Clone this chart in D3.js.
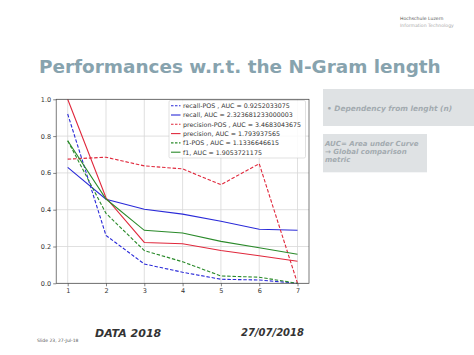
<!DOCTYPE html>
<html><head><meta charset="utf-8">
<script src="https://cdn.jsdelivr.net/npm/d3@7"></script>
<style>body{margin:0;background:#fff;}svg{display:block;}</style>
</head><body><svg id="c" width="474" height="355"></svg>
<script>
const ngrams = [1,2,3,4,5,6,7];
const recallPOS    = [0.92, 0.26, 0.105, 0.06, 0.022, 0.018, 0.0];
const recall       = [0.63, 0.457, 0.402, 0.376, 0.337, 0.294, 0.288];
const precisionPOS = [0.675, 0.685, 0.638, 0.622, 0.536, 0.65, 0.0];
const precision    = [1.0, 0.465, 0.222, 0.215, 0.178, 0.15, 0.12];
const f1POS        = [0.775, 0.38, 0.178, 0.117, 0.04, 0.033, 0.0];
const f1           = [0.775, 0.458, 0.288, 0.273, 0.228, 0.193, 0.158];
const seriesNames = ["recall-POS , AUC = 0.9252033075","recall, AUC = 2.323681233000003","precision-POS , AUC = 3.4683043675","precision, AUC = 1.793937565","f1-POS , AUC = 1.1336646615","f1, AUC = 1.9053721175"];
const xTicks = [1,2,3,4,5,6,7];
const yTicks = [0,0.2,0.4,0.6,0.8,1.0];

const series = [
  {name:seriesNames[0], v:recallPOS, c:"#2a2ad8", dash:true},
  {name:seriesNames[1], v:recall, c:"#2a2ad8", dash:false},
  {name:seriesNames[2], v:precisionPOS, c:"#e0283c", dash:true},
  {name:seriesNames[3], v:precision, c:"#e0283c", dash:false},
  {name:seriesNames[4], v:f1POS, c:"#2a8a2a", dash:true},
  {name:seriesNames[5], v:f1, c:"#2a8a2a", dash:false}
];

const svg = d3.select("#c");
const L=56.2, R=309, T=99.3, B=283.3;
const x = d3.scaleLinear().domain([0.7,7.3]).range([L,R]);
const y = d3.scaleLinear().domain([0,1]).range([B,T]);

// header
svg.append("text").attr("x",400).attr("y",20).attr("font-family","DejaVu Sans").attr("font-size",4.6).attr("fill","#555").text("Hochschule Luzern");
svg.append("text").attr("x",400).attr("y",26.5).attr("font-family","DejaVu Sans").attr("font-size",4.6).attr("fill","#aaa").text("Information Technology");

const title = svg.append("text").attr("x",39).attr("y",72.5).attr("font-family","DejaVu Sans").attr("font-weight","bold").attr("font-size",18).attr("fill","#87a3ae").text("Performances w.r.t. the N-Gram length");
const tw = title.node().getComputedTextLength();
title.attr("font-size", 18*402/tw);

// grid
const g = svg.append("g");
g.selectAll(".gx").data(xTicks).join("line").attr("x1",d=>x(d)).attr("x2",d=>x(d)).attr("y1",T).attr("y2",B).attr("stroke","#d8d8d8").attr("stroke-width",0.8);
g.selectAll(".gy").data(yTicks).join("line").attr("y1",d=>y(d)).attr("y2",d=>y(d)).attr("x1",L).attr("x2",R).attr("stroke","#d8d8d8").attr("stroke-width",0.8);

// axes
const xa = svg.append("g").attr("transform",`translate(0,${B})`).call(d3.axisBottom(x).tickValues(xTicks).tickSize(3).tickPadding(2).tickFormat(d3.format("d")));
const ya = svg.append("g").attr("transform",`translate(${L},0)`).call(d3.axisLeft(y).tickValues(yTicks).tickSize(3).tickPadding(2).tickFormat(d3.format(".1f")));
[xa,ya].forEach(a=>{a.select(".domain").remove();a.selectAll("text").attr("font-family","DejaVu Sans").attr("font-size",6.5).attr("fill","#333");a.selectAll("line").attr("stroke","#333").attr("stroke-width",0.6);});

// lines
const line = d3.line().x((d,i)=>x(ngrams[i])).y(d=>y(d));
const pl = svg.append("g");
series.forEach(s=>{
  pl.append("path").attr("d",line(s.v)).attr("fill","none").attr("stroke",s.c).attr("stroke-width",1.1).attr("stroke-dasharray",s.dash?"3.5,1.8":null);
});

// frame
svg.append("rect").attr("x",L).attr("y",T).attr("width",R-L).attr("height",B-T).attr("fill","none").attr("stroke","#444").attr("stroke-width",0.7);

// legend
const lg = svg.append("g");
lg.append("rect").attr("x",169).attr("y",100.5).attr("width",136.5).attr("height",57.5).attr("fill","#fff").attr("fill-opacity",0.85).attr("stroke","#ccc").attr("stroke-width",0.6).attr("rx",1.5);
series.forEach((s,i)=>{
  const yy = 105.7 + i*9.3;
  lg.append("line").attr("x1",171).attr("x2",180.5).attr("y1",yy).attr("y2",yy).attr("stroke",s.c).attr("stroke-width",1.1).attr("stroke-dasharray",s.dash?"2.5,1.5":null);
  lg.append("text").attr("x",183).attr("y",yy+2.3).attr("font-family","DejaVu Sans").attr("font-size",6.3).attr("fill","#333").text(s.name);
});

// right panel
svg.append("rect").attr("x",323).attr("y",89).attr("width",151).attr("height",37).attr("fill","#dfe2e4");
svg.append("text").attr("x",327).attr("y",111).attr("font-family","DejaVu Sans").attr("font-size",7.4).attr("font-style","italic").attr("font-weight","bold").attr("fill","#a3abb0").text("•  Dependency from lenght (n)");
svg.append("rect").attr("x",323).attr("y",134).attr("width",104).attr("height",38.3).attr("fill","#dfe2e4");
["AUC= Area under Curve","→ Global comparison","metric"].forEach((t,i)=>{
  svg.append("text").attr("x",325).attr("y",146+i*8.2).attr("font-family","DejaVu Sans").attr("font-size",7.0).attr("font-style","italic").attr("font-weight","bold").attr("fill","#a3abb0").text(t);
});

// footer
svg.append("text").attr("x",37).attr("y",342).attr("font-family","DejaVu Sans").attr("font-size",4.5).attr("fill","#555").text("Slide  23, 27-Jul-18");
svg.append("text").attr("x",95).attr("y",337).attr("font-family","DejaVu Sans").attr("font-size",11).attr("font-style","italic").attr("font-weight","bold").attr("fill","#333").text("DATA 2018");
svg.append("text").attr("x",241).attr("y",336).attr("font-family","DejaVu Sans").attr("font-size",10).attr("font-style","italic").attr("font-weight","bold").attr("fill","#333").text("27/07/2018");
</script></body></html>
